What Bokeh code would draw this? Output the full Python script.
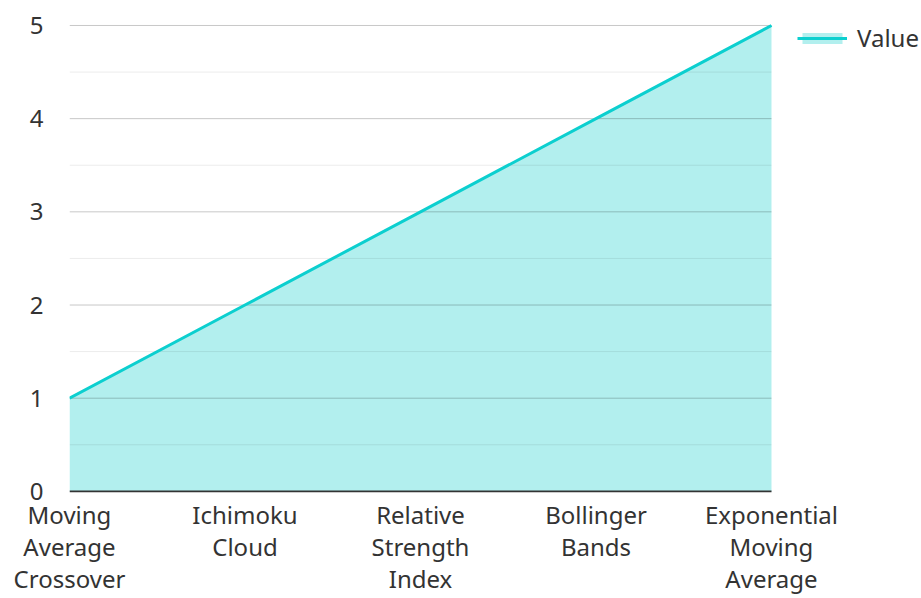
from bokeh.plotting import figure
from bokeh.models import Range1d, FixedTicker, Legend, LegendItem
from bokeh.embed import file_html
from bokeh.resources import INLINE

categories = ["Moving\nAverage\nCrossover", "Ichimoku\nCloud", "Relative\nStrength\nIndex",
              "Bollinger\nBands", "Exponential\nMoving\nAverage"]
values = [1, 2, 3, 4, 5]
y_ticks = [0, 1, 2, 3, 4, 5]
y_minor = [0.5, 1.5, 2.5, 3.5, 4.5]
series_name = "Value"

xs = list(range(len(categories)))
x_last = xs[-1]
y_top = y_ticks[-1]

FONT = "Noto Sans"
FS = "24px"
# frame spans to the right and top edges so the legend can sit beside the plotted area
p = figure(width=921, height=598, output_backend="svg", toolbar_location=None,
           x_range=Range1d(0, x_last * 852 / 702), y_range=Range1d(-0.012, y_top * 5.268 / 5),
           min_border_left=69, min_border_right=0, min_border_top=0, min_border_bottom=106)
p.outline_line_color = None
p.background_fill_color = "white"
p.xgrid.grid_line_color = None
p.ygrid.grid_line_color = None

area = p.varea(x=xs, y1=[0] * len(values), y2=values, fill_color="#b2efee", fill_alpha=1.0)

# horizontal gridlines limited to the category span, drawn over the area
p.segment(x0=[0] * len(y_minor), x1=[x_last] * len(y_minor), y0=y_minor, y1=y_minor,
          line_color="black", line_alpha=0.08, line_width=1)
p.segment(x0=[0] * len(y_ticks[1:]), x1=[x_last] * len(y_ticks[1:]), y0=y_ticks[1:], y1=y_ticks[1:],
          line_color="black", line_alpha=0.22, line_width=1)
# baseline (x axis line)
p.segment(x0=[0], x1=[x_last], y0=[0], y1=[0], line_color="#333333", line_width=2)

line = p.line(x=xs, y=values, line_color="#0ccfcf", line_width=3)

p.xaxis.ticker = FixedTicker(ticks=xs)
p.xaxis.major_label_overrides = {i: c for i, c in enumerate(categories)}
p.xaxis.axis_line_color = None
p.xaxis.major_tick_line_color = None
p.xaxis.minor_tick_line_color = None
p.xaxis.major_label_text_font = FONT
p.xaxis.major_label_text_font_size = FS
p.xaxis.major_label_text_color = "#333333"
p.xaxis.major_label_text_line_height = 0.98
p.xaxis.major_label_standoff = -1

p.yaxis.ticker = FixedTicker(ticks=y_ticks)
p.yaxis.axis_line_color = None
p.yaxis.major_tick_line_color = None
p.yaxis.minor_tick_line_color = None
p.yaxis.major_label_text_font = FONT
p.yaxis.major_label_text_font_size = FS
p.yaxis.major_label_text_color = "#333333"
p.yaxis.major_label_standoff = 20

legend = Legend(items=[LegendItem(label=series_name, renderers=[area, line])],
                location=(728, 438), margin=0, padding=0, border_line_color=None,
                background_fill_alpha=0,
                glyph_width=50, glyph_height=14, label_height=14, label_text_font=FONT,
                label_text_font_size=FS, label_text_color="#333333",
                label_standoff=10)
p.add_layout(legend)

open("out.html", "w").write(file_html(p, INLINE))
